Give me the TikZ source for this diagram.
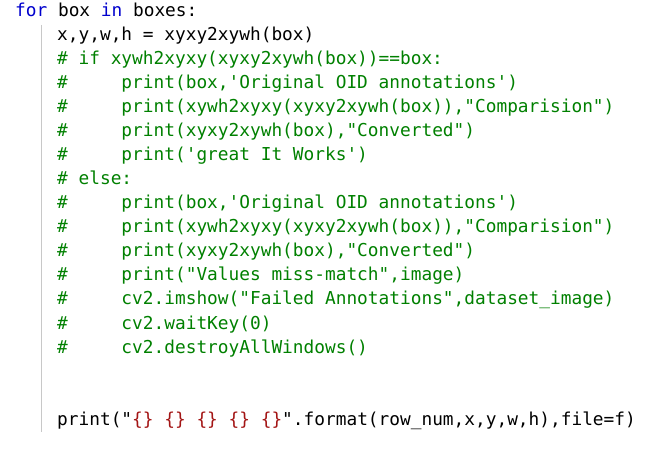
\documentclass[tikz,border=0pt]{standalone}
\usepackage{fontspec}
\setmonofont{DejaVu Sans Mono}
\usetikzlibrary{positioning}
\definecolor{kwblue}{RGB}{0,0,205}
\definecolor{cmtgreen}{RGB}{0,128,0}
\definecolor{strred}{RGB}{163,21,21}
\definecolor{guidegray}{RGB}{200,200,200}
\tikzset{%
  code/.style    = {anchor=base west, inner sep=0pt, font=\ttfamily\fontsize{17.8}{20}\selectfont},
  cmt/.style     = {code, text=cmtgreen}, % comment line
  guide/.style   = {draw=guidegray, line width=1pt} % indent guide
}
\newcommand{\kw}[1]{\textcolor{kwblue}{#1}}
\newcommand{\br}{\textcolor{strred}{\{\}}}

\begin{document}
\begin{tikzpicture}[x=1pt, y=-1pt]
        \useasboundingbox (0,0) rectangle (651,449);
        \draw[guide] (41,25) coordinate (gtop) -- (41,432) coordinate (gbot);
        \node[code] (l1)  at (15,17)  {\kw{for} box \kw{in} boxes:};
        \node[code] (l2)  at (57,41)  {x,y,w,h = xyxy2xywh(box)};
        \node[cmt]  (l3)  at (57,65)  {\# if xywh2xyxy(xyxy2xywh(box))==box:};
        \node[cmt]  (l4)  at (57,89)  {\#\ \ \ \ \ print(box,'Original OID annotations')};
        \node[cmt]  (l5)  at (57,113) {\#\ \ \ \ \ print(xywh2xyxy(xyxy2xywh(box)),"Comparision")};
        \node[cmt]  (l6)  at (57,137) {\#\ \ \ \ \ print(xyxy2xywh(box),"Converted")};
        \node[cmt]  (l7)  at (57,161) {\#\ \ \ \ \ print('great It Works')};
        \node[cmt]  (l8)  at (57,185) {\# else:};
        \node[cmt]  (l9)  at (57,209) {\#\ \ \ \ \ print(box,'Original OID annotations')};
        \node[cmt]  (l10) at (57,233) {\#\ \ \ \ \ print(xywh2xyxy(xyxy2xywh(box)),"Comparision")};
        \node[cmt]  (l11) at (57,257) {\#\ \ \ \ \ print(xyxy2xywh(box),"Converted")};
        \node[cmt]  (l12) at (57,281) {\#\ \ \ \ \ print("Values miss-match",image)};
        \node[cmt]  (l13) at (57,305) {\#\ \ \ \ \ cv2.imshow("Failed Annotations",dataset\_image)};
        \node[cmt]  (l14) at (57,329) {\#\ \ \ \ \ cv2.waitKey(0)};
        \node[cmt]  (l15) at (57,353) {\#\ \ \ \ \ cv2.destroyAllWindows()};
        \node[code] (l16) at (57,425) {print("\br{} \br{} \br{} \br{} \br{}".format(row\_num,x,y,w,h),file=f)};
\end{tikzpicture}
\end{document}
